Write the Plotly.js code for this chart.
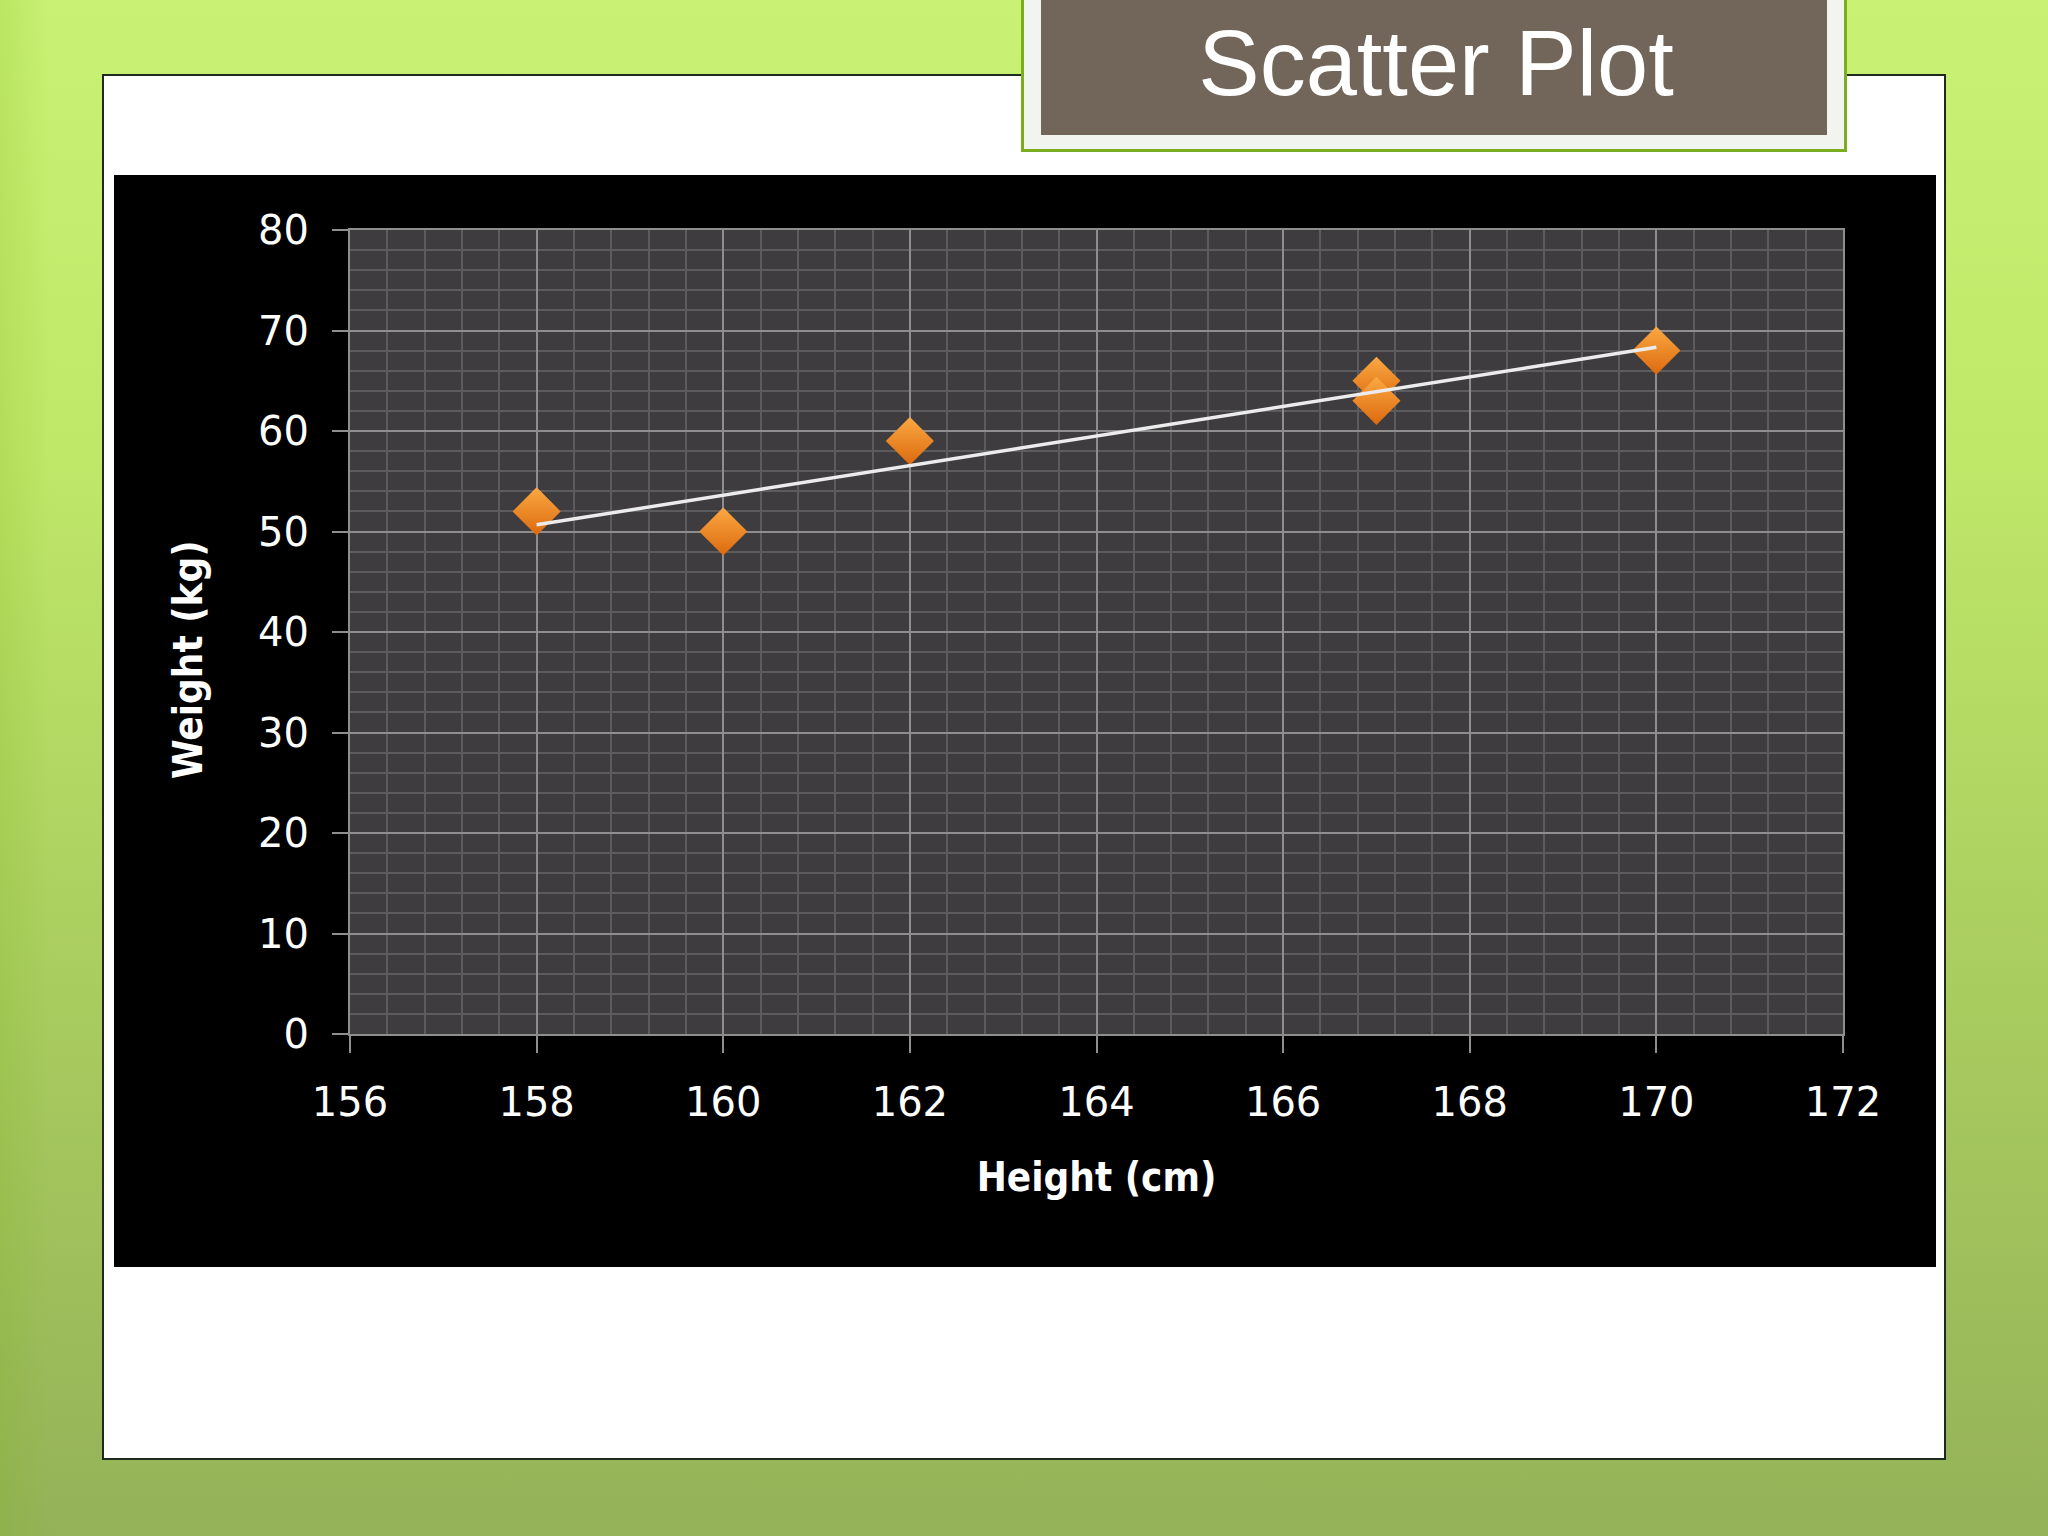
<!DOCTYPE html>
<html>
<head>
<meta charset="utf-8">
<script src="https://cdn.plot.ly/plotly-3.0.1.min.js"></script>
<style>
  html, body { margin: 0; padding: 0; }
  body {
    width: 2048px; height: 1536px; position: relative; overflow: hidden;
    background:
      linear-gradient(to right, rgba(120,175,20,0.18) 0px, rgba(120,175,20,0) 50px),
      linear-gradient(to bottom, #c9f274 0%, #bfe768 30%, #a9cc5f 65%, #94b258 100%);
  }
  .slide { position: absolute; left: 102px; top: 74px; width: 1844px; height: 1386px;
           background: #ffffff; border: 2px solid #1e2a1e; box-sizing: border-box; }
  .panel { position: absolute; left: 114px; top: 175px; width: 1822px; height: 1092px; background: #000000; }
  .titlebox { position: absolute; left: 1021px; top: -6px; width: 826px; height: 158px;
              background: #f2f4f0; border: 3px solid #7aad20; border-top: none; box-sizing: border-box; }
  .titleinner { position: absolute; left: 1041px; top: -6px; width: 786px; height: 141px; background: #716659; }
  #chart { position: absolute; left: 0; top: 0; width: 2048px; height: 1536px; }
</style>
</head>
<body>
<div class="slide"></div>
<div class="panel"></div>
<div class="titlebox"></div>
<div class="titleinner"></div>
<div id="chart"></div>
<script>
// Data
const heightCm = [158, 160, 162, 167, 167, 170];
const weightKg = [52, 50, 59, 65, 63, 68];
const xTickVals = [156, 158, 160, 162, 164, 166, 168, 170, 172];
const yTickVals = [0, 10, 20, 30, 40, 50, 60, 70, 80];

// Linear trendline (least squares) computed from the data
const n = heightCm.length;
const mx = heightCm.reduce((a, b) => a + b, 0) / n;
const my = weightKg.reduce((a, b) => a + b, 0) / n;
let sxy = 0, sxx = 0;
for (let i = 0; i < n; i++) { sxy += (heightCm[i] - mx) * (weightKg[i] - my); sxx += (heightCm[i] - mx) ** 2; }
const slope = sxy / sxx, icpt = my - slope * mx;
const trendX = [Math.min(...heightCm), Math.max(...heightCm)];
const trendY = trendX.map(x => icpt + slope * x);

const majorGrid = '#8e8e8e';
const minorGrid = '#5c5b5d';
const tickFont = { family: 'DejaVu Sans, Verdana, sans-serif', size: 40, color: '#ffffff' };
const titleFont = { family: 'DejaVu Sans Condensed, DejaVu Sans, sans-serif', size: 40, color: '#ffffff', weight: 'bold' };

const traces = [
  {
    type: 'scatter', mode: 'markers', x: heightCm, y: weightKg, name: 'Weight',
    marker: { symbol: 'diamond', size: 37, color: '#fba843',
              gradient: { type: 'vertical', color: '#dc6a0e' },
              line: { width: 0 } },
    hoverinfo: 'x+y', showlegend: false
  },
  {
    type: 'scatter', mode: 'lines', x: trendX, y: trendY, name: 'Linear trend',
    line: { color: '#ececec', width: 3.5 }, hoverinfo: 'skip', showlegend: false
  }
];

const layout = {
  width: 2048, height: 1536,
  margin: { l: 350, r: 205, t: 230, b: 502, pad: 0 },
  paper_bgcolor: 'rgba(0,0,0,0)',
  plot_bgcolor: '#3e3c3f',
  showlegend: false,
  title: {
    text: 'Scatter Plot',
    font: { family: 'Liberation Sans, Arial, sans-serif', size: 92, color: '#ffffff' },
    xref: 'container', yref: 'container', x: 0.7012, y: 0.9593,
    xanchor: 'center', yanchor: 'middle'
  },
  xaxis: {
    range: [156, 172], tickmode: 'array', tickvals: xTickVals,
    ticks: 'outside', ticklen: 17, tickwidth: 2, tickcolor: majorGrid,
    tickfont: tickFont, ticklabelstandoff: 15,
    showgrid: true, gridcolor: majorGrid, gridwidth: 2,
    minor: { dtick: 0.4, showgrid: true, gridcolor: minorGrid, gridwidth: 2, ticks: '' },
    showline: true, linecolor: majorGrid, linewidth: 2, mirror: true,
    zeroline: false, automargin: false,
    title: { text: 'Height (cm)', font: titleFont, standoff: 39 }
  },
  yaxis: {
    range: [0, 80], tickmode: 'array', tickvals: yTickVals,
    ticks: 'outside', ticklen: 16, tickwidth: 2, tickcolor: majorGrid,
    tickfont: tickFont, ticklabelstandoff: 15,
    showgrid: true, gridcolor: majorGrid, gridwidth: 2,
    minor: { dtick: 2, showgrid: true, gridcolor: minorGrid, gridwidth: 2, ticks: '' },
    showline: true, linecolor: majorGrid, linewidth: 2, mirror: true,
    zeroline: false, automargin: false
  },
  annotations: [
    {
      text: 'Weight (kg)', textangle: -90, showarrow: false,
      xref: 'paper', yref: 'paper', x: -0.1085, y: 0.4652,
      xanchor: 'center', yanchor: 'middle', font: titleFont
    }
  ]
};

Plotly.newPlot('chart', traces, layout, { displayModeBar: false, staticPlot: true });
</script>
</body>
</html>
